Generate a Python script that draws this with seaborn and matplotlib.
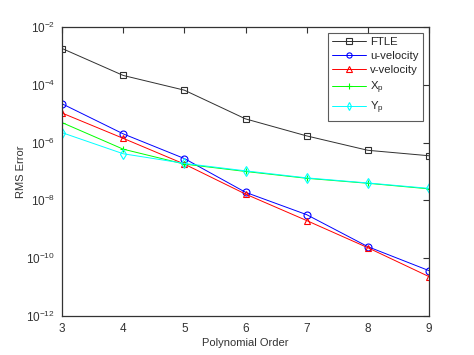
import numpy as np
import pandas as pd
import seaborn as sns
from matplotlib import pyplot as plt

### data

order = [3, 4, 5, 6, 7, 8, 9]
ftle = [1.8e-3, 2.1e-4, 6.5e-5, 6.6e-6, 1.7e-6, 5.4e-7, 3.5e-7]
u_vel = [2.2e-5, 2.0e-6, 2.8e-7, 1.9e-8, 3.2e-9, 2.5e-10, 3.7e-11]
v_vel = [1.05e-5, 1.4e-6, 1.8e-7, 1.65e-8, 2.0e-9, 2.3e-10, 2.3e-11]
x_p = [4.9e-6, 5.9e-7, 1.8e-7, 1.0e-7, 5.8e-8, 3.9e-8, 2.5e-8]
y_p = [2.2e-6, 4.1e-7, 1.9e-7, 1.05e-7, 6.0e-8, 4.0e-8, 2.6e-8]

series = ['FTLE', 'u-velocity', 'v-velocity',
          r'X$_\mathregular{p}$', r'Y$_\mathregular{p}$']
values = [ftle, u_vel, v_vel, x_p, y_p]
colors = ['#303030', '#0000ff', '#ff0000', '#00ff00', '#00ffff']
markers = ['s', 'o', '^', '+', 'd']

sns.set_style('white')
plt.rcParams['font.family'] = ['Liberation Sans', 'DejaVu Sans']

fig, ax = plt.subplots(figsize=(4.74, 3.55), dpi=100)
fig.subplots_adjust(left=0.131, right=0.905, top=0.924, bottom=0.11)

### one lineplot per series (open markers)

for name, vals, c, m in zip(series, values, colors, markers):
    d = pd.DataFrame({'order': order, 'rms': vals})
    sns.lineplot(data=d, x='order', y='rms', color=c, marker=m, label=name,
                 ax=ax, linewidth=0.7, markersize=5, markerfacecolor='none',
                 markeredgecolor=c, markeredgewidth=0.8)

ax.set_yscale('log')
ax.set_ylim(1e-12, 1e-2)
ax.set_xlim(3, 9)
ax.set_yticks([1e-12, 1e-10, 1e-8, 1e-6, 1e-4, 1e-2])
ax.yaxis.set_minor_locator(plt.NullLocator())
ax.set_xticks(order)
ax.tick_params(direction='in', top=True, right=True, length=4, width=0.8,
               labelsize=8.5, colors='#333333', pad=5)
for s in ax.spines.values():
    s.set_color('#333333')
    s.set_linewidth(0.9)
ax.set_xlabel('Polynomial Order', fontsize=8, color='#333333', labelpad=2)
ax.set_ylabel('RMS Error', fontsize=8, color='#333333', labelpad=0)

leg = ax.legend(loc='upper right', fontsize=8.2, frameon=True, fancybox=False,
                edgecolor='#333333', borderaxespad=0.5, handlelength=3.0,
                handletextpad=0.35, labelspacing=0.35, markerscale=0.75,
                borderpad=0.4)
leg.get_frame().set_linewidth(0.8)

plt.savefig('out.png', dpi=100)
